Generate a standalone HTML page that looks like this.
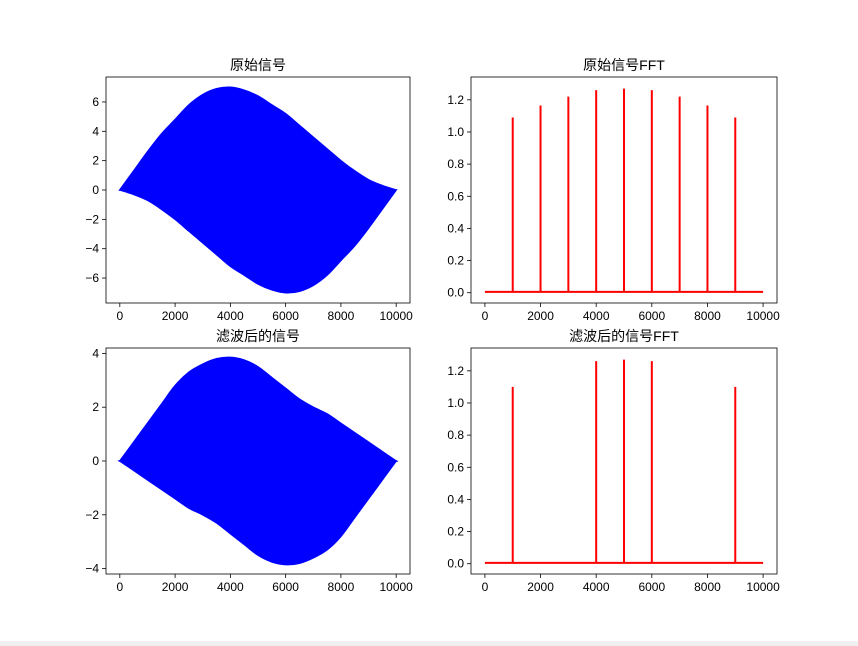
<!DOCTYPE html>
<html><head><meta charset="utf-8"><style>
body{margin:0;background:#fff}
svg{display:block}
text{font-family:"Liberation Sans","Noto Sans CJK SC",sans-serif;fill:#000}
</style></head><body>
<svg id="fig" width="858" height="646" viewBox="0 0 858 646" xmlns="http://www.w3.org/2000/svg">
<rect x="0" y="0" width="858" height="646" fill="#fff"/>
<rect x="0" y="641" width="858" height="5" fill="#f0f0f0"/>
</svg>
<script>
const sigX=[0,500,1000,1500,2000,2500,3000,3500,4000,4500,5000,5500,6000,6500,7000,7500,8000,8500,9000,9500,10000];
const origUpper=[0,1.3,2.6,3.8,4.8,5.8,6.5,6.9,7.0,6.8,6.4,5.8,5.2,4.4,3.6,2.8,2.0,1.3,0.7,0.3,0];
const filtUpper=[0,0.7,1.4,2.1,2.8,3.3,3.6,3.8,3.85,3.75,3.5,3.1,2.7,2.3,2.0,1.75,1.4,1.05,0.7,0.35,0];
const fftFreq=[1000,2000,3000,4000,5000,6000,7000,8000,9000];
const fftOrig=[1.09,1.165,1.22,1.26,1.27,1.26,1.22,1.165,1.09];
const fftFilt=[1.10,0.008,0.008,1.26,1.27,1.26,0.008,0.008,1.10];
const xTicks=[0,2000,4000,6000,8000,10000];
const origYTicks=[-6,-4,-2,0,2,4,6];
const filtYTicks=[-4,-2,0,2,4];
const fftYTicks=[0,0.2,0.4,0.6,0.8,1.0,1.2];

const NS="http://www.w3.org/2000/svg";
const svg=document.getElementById('fig');
function mk(tag,attrs,parent){const e=document.createElementNS(NS,tag);for(const k in attrs)e.setAttribute(k,attrs[k]);(parent||svg).appendChild(e);return e;}

function axes(name,box,xr,yr,yticks,fmt,title){
  const g=mk('g',{});
  
  
  const sx=v=>box.x+(v-xr[0])/(xr[1]-xr[0])*box.w;
  const sy=v=>box.y+box.h-(v-yr[0])/(yr[1]-yr[0])*box.h;
  const t=mk('text',{x:box.x+box.w/2,y:box.y-7,'text-anchor':'middle','font-size':'14'},g);
  t.textContent=title;
  
  
  xTicks.forEach(v=>{
    mk('line',{x1:sx(v),x2:sx(v),y1:box.y+box.h,y2:box.y+box.h+4,stroke:'#000','stroke-width':0.8},g);
    const l=mk('text',{x:sx(v),y:box.y+box.h+17,'text-anchor':'middle','font-size':'12'},g);
    l.textContent=v;
    
    
  });
  yticks.forEach(v=>{
    mk('line',{x1:box.x-4,x2:box.x,y1:sy(v),y2:sy(v),stroke:'#000','stroke-width':0.8},g);
    const l=mk('text',{x:box.x-7,y:sy(v)+4,'text-anchor':'end','font-size':'12'},g);
    l.textContent=fmt(v).replace('-','\u2212');
    
    
  });
  return {g,sx,sy,box};
}
function frame(a){mk('rect',{x:a.box.x,y:a.box.y,width:a.box.w,height:a.box.h,fill:'none',stroke:'#000','stroke-width':0.8},a.g);}

function smooth(p){ // Catmull-Rom through points
  let d='M'+p[0][0]+','+p[0][1];
  for(let i=0;i<p.length-1;i++){
    const p0=p[Math.max(0,i-1)],p1=p[i],p2=p[i+1],p3=p[Math.min(p.length-1,i+2)];
    const c1=[p1[0]+(p2[0]-p0[0])/6,p1[1]+(p2[1]-p0[1])/6];
    const c2=[p2[0]-(p3[0]-p1[0])/6,p2[1]-(p3[1]-p1[1])/6];
    d+=' C'+c1[0]+','+c1[1]+' '+c2[0]+','+c2[1]+' '+p2[0]+','+p2[1];
  }
  return d;
}
function envelope(a,upper,name){
  const up=sigX.map((x,i)=>[a.sx(x),a.sy(upper[i])]);
  const lo=[];
  for(let i=sigX.length-1;i>=0;i--){lo.push([a.sx(10000-sigX[i]),a.sy(-upper[i])]);}
  const d=smooth(up)+' L'+smooth(lo.reverse()).slice(1).split(' C')[0]; // placeholder
  // build: upper forward, then lower backward
  const loRev=lo.slice().reverse();
  const dl=smooth(loRev).replace(/^M/,'L');
  const p=mk('path',{d:smooth(up)+' '+dl+' Z',fill:'#0000ff',stroke:'#0000ff','stroke-width':1.5},a.g);
  
  
}
function fft(a,vals,name){
  const base=0.005;
  let pts=[a.sx(0)+','+a.sy(base)];
  fftFreq.forEach((f,i)=>{pts.push(a.sx(f)+','+a.sy(base));pts.push(a.sx(f)+','+a.sy(vals[i]));pts.push(a.sx(f)+','+a.sy(base));});
  pts.push(a.sx(10000)+','+a.sy(base));
  const p=mk('polyline',{points:pts.join(' '),fill:'none',stroke:'#ff0000','stroke-width':2},a.g);
  
  
}
const xr=[-500,10500];
const a1=axes('original-signal-axes',{x:106,y:77,w:304,h:226},xr,[-7.7,7.7],origYTicks,v=>String(v),'原始信号');
envelope(a1,origUpper,'original-signal-series');frame(a1);
const a2=axes('original-fft-axes',{x:471,y:77,w:306,h:226},xr,[-0.064,1.342],fftYTicks,v=>v.toFixed(1),'原始信号FFT');
fft(a2,fftOrig,'original-fft-series');frame(a2);
const a3=axes('filtered-signal-axes',{x:106,y:348,w:304,h:226},xr,[-4.2,4.2],filtYTicks,v=>String(v),'滤波后的信号');
envelope(a3,filtUpper,'filtered-signal-series');frame(a3);
const a4=axes('filtered-fft-axes',{x:471,y:348,w:306,h:226},xr,[-0.064,1.342],fftYTicks,v=>v.toFixed(1),'滤波后的信号FFT');
fft(a4,fftFilt,'filtered-fft-series');frame(a4);
</script>
</body></html>
